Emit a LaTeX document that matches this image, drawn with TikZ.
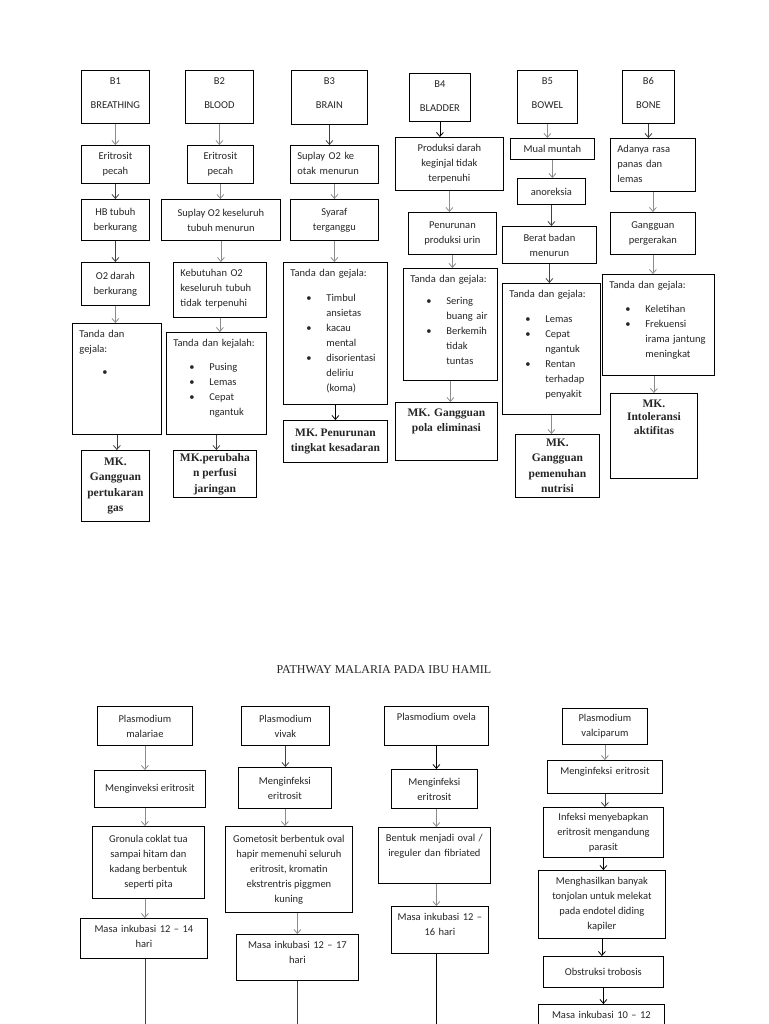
\documentclass[tikz,border=0pt]{standalone}
\usepackage{fontspec}
\usepackage{tikz}
\usetikzlibrary{arrows.meta}

\newfontfamily\carlito{Carlito}
\newfontfamily\libserif{Liberation Serif}
\newcommand{\hurufisi}{\carlito\fontsize{10.5pt}{15pt}\selectfont}
\newcommand{\hurufmk}{\libserif\bfseries\fontsize{11.5pt}{15.5pt}\selectfont}
\newcommand{\hurufjudul}{\libserif\fontsize{12pt}{14pt}\selectfont}
\newcommand{\poin}[1]{\hspace*{16pt}\makebox[20pt][l]{\textbullet}#1}
\newcommand{\sambung}[1]{\hspace*{36pt}#1}

\tikzset{
    kotak/.style={draw=black, line width=0.8pt, anchor=north west, align=center, inner sep=0pt, font=\hurufisi, text=black!85},
    atas/.style={inner ysep=0pt, text height=14pt, text depth=#1},
    kiri/.style={align=left, text width=#1, inner xsep=7pt},
    tengah/.style={align=center, text width=#1, inner xsep=0pt},
    mk/.style={font=\hurufmk},
    panah/.style={draw=black!75, line width=0.8pt, -{Straight Barb[length=4pt,width=7pt]}},
    panah abu/.style={panah, draw=black!45},
    garis/.style={draw=black!75, line width=0.8pt}
}

\begin{document}
\begin{tikzpicture}[x=1pt, y=-1pt]
    \useasboundingbox (0,0) rectangle (768,1024);
    \clip (0,0) rectangle (768,1024);
    \fill[white] (0,0) rectangle (768,1024);

    % Kepala B1 - B6
    \foreach \n/\x/\y/\w/\d/\nama in {1/81/70/68pt/39pt/BREATHING, 2/185/70/68pt/39pt/BLOOD,
        3/291/70/76pt/40pt/BRAIN, 4/409/73/61pt/34pt/BLADDER, 5/517/70/60pt/39pt/BOWEL, 6/622/70/52pt/39pt/BONE} {
        \node[kotak, atas=\d, tengah=\w] (b\n) at (\x,\y) {B\n\\[9pt]\nama};
    }

    % B1 breathing
    \node[kotak, minimum width=68pt, minimum height=38pt] (e1) at (81,145) {Eritrosit\\pecah};
    \node[kotak, minimum width=68pt, minimum height=41pt] (hb) at (81,199) {HB tubuh\\berkurang};
    \node[kotak, minimum width=68pt, minimum height=43pt] (o2) at (81,262) {O2 darah\\berkurang};
    \node[kotak, kiri=75pt, atas=97pt] (tg1) at (72,323) {Tanda dan\\gejala:\\[8pt]\hspace*{23pt}\textbullet};
    \node[kotak, mk, minimum width=68pt, minimum height=71pt] (mk1) at (81,450) {MK.\\Gangguan\\pertukaran\\gas};

    % B2 blood
    \node[kotak, minimum width=66pt, minimum height=38pt] (e2) at (187,145) {Eritrosit\\pecah};
    \node[kotak, minimum width=119pt, minimum height=41pt] (sup2) at (161,199) {Suplay O2 keseluruh\\tubuh menurun};
    \node[kotak, kiri=79pt, atas=41pt] (keb) at (173,262) {Kebutuhan O2\\keseluruh tubuh\\tidak terpenuhi};
    \node[kotak, kiri=86pt, atas=88pt] (tk) at (166,332) {Tanda dan kejalah:\\[9pt]\poin{Pusing}\\\poin{Lemas}\\\poin{Cepat}\\\sambung{ngantuk}};
    \node[kotak, mk, minimum width=83pt, minimum height=47pt] (mk2) at (173,450) {MK.perubaha\\n perfusi\\jaringan};

    % B3 brain
    \node[kotak, kiri=74pt, atas=24pt] (sup3) at (290,145) {Suplay O2 ke\\otak menurun};
    \node[kotak, minimum width=88pt, minimum height=41pt] (syaraf) at (290,199) {Syaraf\\terganggu};
    \node[kotak, kiri=90pt, atas=128pt] (tg3) at (283,262) {Tanda dan gejala:\\[10pt]\poin{Timbul}\\\sambung{ansietas}\\\poin{kacau}\\\sambung{mental}\\\poin{disorientasi}\\\sambung{deliriu}\\\sambung{(koma)}};
    \node[kotak, mk, minimum width=104pt, minimum height=42pt] (mk3) at (283,420) {MK. Penurunan\\tingkat kesadaran};

    % B4 bladder
    \node[kotak, minimum width=108pt, minimum height=53pt] (prod) at (395,137) {Produksi darah\\keginjal tidak\\terpenuhi};
    \node[kotak, minimum width=88pt, minimum height=42pt] (pen) at (408,212) {Penurunan\\produksi urin};
    \node[kotak, kiri=80pt, atas=98pt] (tg4) at (403,268) {Tanda dan gejala:\\[7pt]\poin{Sering}\\\sambung{buang air}\\\poin{Berkemih}\\\sambung{tidak}\\\sambung{tuntas}};
    \node[kotak, mk, atas=44pt, tengah=102pt] (mk4) at (395,402) {MK. Gangguan\\pola eliminasi};

    % B5 bowel
    \node[kotak, minimum width=84pt, minimum height=21pt] (mual) at (510,138) {Mual muntah};
    \node[kotak, minimum width=68pt, minimum height=26pt] (anor) at (517,178) {anoreksia};
    \node[kotak, minimum width=94pt, minimum height=37pt] (berat) at (502,226) {Berat badan\\menurun};
    \node[kotak, kiri=84pt, atas=117pt] (tg5) at (502,283) {Tanda dan gejala:\\[10pt]\poin{Lemas}\\\poin{Cepat}\\\sambung{ngantuk}\\\poin{Rentan}\\\sambung{terhadap}\\\sambung{penyakit}};
    \node[kotak, mk, minimum width=84pt, minimum height=63pt] (mk5) at (515,434) {MK.\\Gangguan\\pemenuhan\\nutrisi};

    % B6 bone
    \node[kotak, kiri=71pt, atas=39pt] (adanya) at (610,138) {Adanya rasa\\panas dan\\lemas};
    \node[kotak, minimum width=85pt, minimum height=42pt] (gang) at (610,212) {Gangguan\\pergerakan};
    \node[kotak, kiri=98pt, atas=87pt] (tg6) at (602,274) {Tanda dan gejala:\\[9pt]\poin{Keletihan}\\\poin{Frekuensi}\\\sambung{irama jantung}\\\sambung{meningkat}};
    \node[kotak, mk, atas=71pt, tengah=87pt] (mk6) at (610,393) {MK.\\[-2pt]Intoleransi\\[-2pt]aktifitas};

    % Panah bagian atas
    \draw[panah abu] (b1) -- (b1 |- e1.north);
    \draw[panah] (e1) -- (e1 |- hb.north);
    \draw[panah] (hb) -- (hb |- o2.north);
    \draw[panah abu] (o2) -- (o2 |- tg1.north);
    \draw[panah] (tg1) -- (tg1 |- mk1.north);
    \draw[panah abu] (b2) -- (b2 |- e2.north);
    \draw[panah abu] (e2) -- (e2 |- sup2.north);
    \draw[panah abu] (sup2) -- (sup2 |- keb.north);
    \draw[panah abu] (keb) -- (keb |- tk.north);
    \draw[panah] (tk) -- (tk |- mk2.north);
    \draw[panah] (b3) -- (b3 |- sup3.north);
    \draw[panah abu] (sup3) -- (sup3 |- syaraf.north);
    \draw[panah abu] (syaraf) -- (syaraf |- tg3.north);
    \draw[panah, draw=black] (tg3) -- (tg3 |- mk3.north);
    \draw[panah, draw=black] (b4) -- (b4 |- prod.north);
    \draw[panah abu] (prod) -- (prod |- pen.north);
    \draw[panah abu] (pen) -- (pen |- tg4.north);
    \draw[panah abu] (tg4) -- (tg4 |- mk4.north);
    \draw[panah abu] (b5) -- (b5 |- mual.north);
    \draw[panah abu] (mual) -- (mual |- anor.north);
    \draw[panah] (anor) -- (anor |- berat.north);
    \draw[panah] (berat) -- (berat |- tg5.north);
    \draw[panah abu] (tg5) -- (tg5 |- mk5.north);
    \draw[panah] (b6) -- (b6 |- adanya.north);
    \draw[panah abu] (adanya) -- (adanya |- gang.north);
    \draw[panah abu] (gang) -- (gang |- tg6.north);
    \draw[panah abu] (tg6.south -| mk6) -- (mk6);

    % Judul pathway
    \node[font=\hurufjudul, text=black!85] (judul) at (384,670) {PATHWAY MALARIA PADA IBU HAMIL};

    % Plasmodium malariae
    \node[kotak, minimum width=95pt, minimum height=39pt] (pm) at (97,706) {Plasmodium\\malariae};
    \node[kotak, minimum width=111pt, minimum height=37pt] (minv) at (94,770) {Menginveksi eritrosit};
    \node[kotak, minimum width=112pt, minimum height=72pt] (gron) at (92,826) {Gronula coklat tua\\sampai hitam dan\\kadang berbentuk\\seperti pita};
    \node[kotak, atas=26pt, tengah=127pt] (masa1) at (80,918) {Masa inkubasi 12 – 14\\hari};

    % Plasmodium vivak
    \node[kotak, minimum width=88pt, minimum height=39pt] (pv) at (241,706) {Plasmodium\\vivak};
    \node[kotak, minimum width=93pt, minimum height=41pt] (mi2) at (238,767) {Menginfeksi\\eritrosit};
    \node[kotak, minimum width=127pt, minimum height=86pt] (gom) at (225,826) {Gometosit berbentuk oval\\hapir memenuhi seluruh\\eritrosit, kromatin\\ekstrentris piggmen\\kuning};
    \node[kotak, atas=32pt, tengah=122pt] (masa2) at (236,934) {Masa inkubasi 12 – 17\\hari};

    % Plasmodium ovela
    \node[kotak, atas=25pt, tengah=104pt] (po) at (384,706) {Plasmodium ovela};
    \node[kotak, minimum width=86pt, minimum height=39pt] (mi3) at (391,769) {Menginfeksi\\eritrosit};
    \node[kotak, atas=42pt, tengah=112pt] (bent) at (378,827) {Bentuk menjadi oval /\\ireguler dan fibriated};
    \node[kotak, atas=33pt, tengah=97pt] (masa3) at (391,906) {Masa inkubasi 12 –\\16 hari};

    % Plasmodium valciparum
    \node[kotak, minimum width=85pt, minimum height=36pt] (pf) at (562,708) {Plasmodium\\valciparum};
    \node[kotak, atas=19pt, tengah=115pt] (mi4) at (547,760) {Menginfeksi eritrosit};
    \node[kotak, minimum width=120pt, minimum height=50pt] (inf) at (543,807) {Infeksi menyebapkan\\eritrosit mengandung\\parasit};
    \node[kotak, minimum width=127pt, minimum height=68pt] (meng) at (538,870) {Menghasilkan banyak\\tonjolan untuk melekat\\pada endotel diding\\kapiler};
    \node[kotak, minimum width=120pt, minimum height=31pt] (obs) at (543,956) {Obstruksi trobosis};
    \node[kotak, atas=36pt, tengah=126pt] (masa4) at (538,1004) {Masa inkubasi 10 – 12};

    % Panah bagian bawah
    \coordinate (ujung) at (0,1024);
    \draw[panah abu] (pm) -- (pm |- minv.north);
    \draw[panah abu] (minv.south -| pm) -- (pm |- gron.north);
    \draw[panah abu] (gron.south -| pm) -- (pm |- masa1.north);
    \draw[garis] (masa1.south -| pm) -- (pm |- ujung);
    \draw[panah] (pv) -- (pv |- mi2.north);
    \draw[panah abu] (mi2) -- (mi2 |- gom.north);
    \draw[panah abu] (gom.south -| masa2) -- (masa2);
    \draw[garis] (masa2) -- (masa2 |- ujung);
    \draw[panah, draw=black] (po) -- (po |- mi3.north);
    \draw[panah abu] (mi3.south -| po) -- (po |- bent.north);
    \draw[panah abu] (bent.south -| po) -- (po |- masa3.north);
    \draw[garis, draw=black] (masa3.south -| po) -- (po |- ujung);
    \draw[panah abu] (pf) -- (pf |- mi4.north);
    \draw[panah] (mi4) -- (mi4 |- inf.north);
    \draw[panah, draw=black] (inf) -- (inf |- meng.north);
    \draw[panah, draw=black] (meng) -- (meng |- obs.north);
    \draw[panah, draw=black] (obs) -- (obs |- masa4.north);
\end{tikzpicture}
\end{document}
